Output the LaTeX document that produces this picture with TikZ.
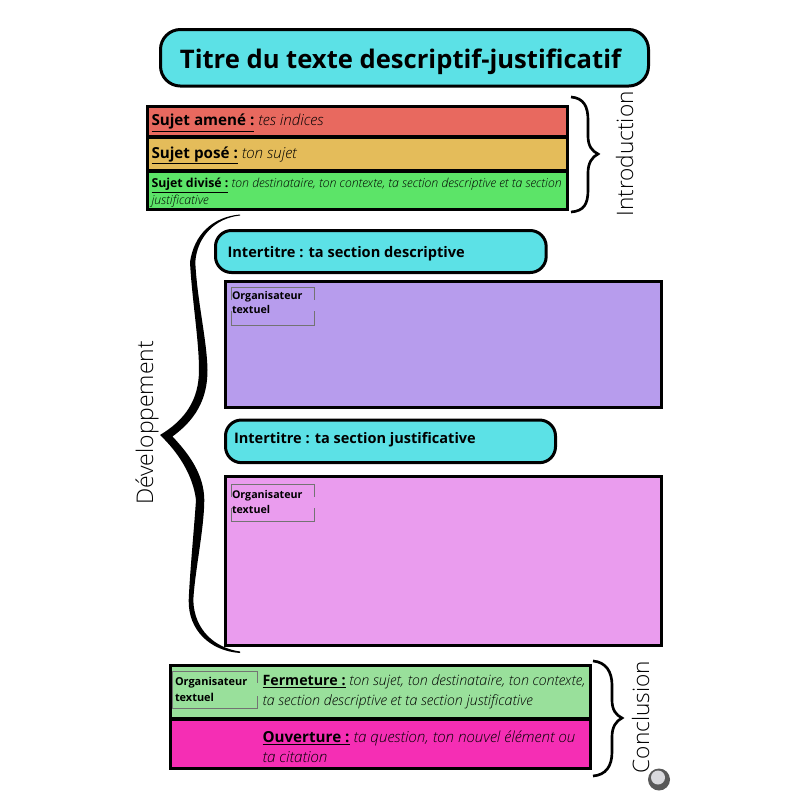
\documentclass[tikz,border=0pt]{standalone}
\usepackage{fontspec}
\setmainfont{Open Sans}
\newfontfamily\lightfont[ItalicFont={Open Sans Light Italic}]{Open Sans Light}
\definecolor{cyanbox}{HTML}{5CE1E6}
\definecolor{redbox}{HTML}{E8695F}
\definecolor{orangebox}{HTML}{E4BC5A}
\definecolor{greenbox}{HTML}{5CE468}
\definecolor{purplebox}{HTML}{B79CED}
\definecolor{pinkbox}{HTML}{EA9CEE}
\definecolor{palegreen}{HTML}{99E09B}
\definecolor{magentabox}{HTML}{F52EB4}
\tikzset{every picture/.style={line width=0.75pt}}
\tikzset{
	box/.style={draw=black,line width=2.25pt,anchor=north west,inner sep=0pt},
	titlebox/.style={box,rounded corners=15pt},
	lead/.style={anchor=west,inner sep=0pt,align=left,font=\fontsize{11.4}{16}\selectfont},
	orgtext/.style={anchor=north west,inner sep=0pt,align=left,font=\fontsize{8}{11}\selectfont\bfseries},
	orgline/.style={draw=black!55,line width=0.75pt},
	part/.style={rotate=90,inner sep=0pt,font=\fontsize{17}{20}\selectfont\lightfont},
}
\newcommand{\lead}[2]{\textbf{\underline{#1}} {\lightfont\itshape #2}}
\begin{document}
\begin{tikzpicture}[x=0.75pt,y=0.75pt,yscale=-1,xscale=1]
	\useasboundingbox (0,0) rectangle (800,800);

	% Title
	\node [titlebox,fill=cyanbox,minimum width=366pt,minimum height=42.4pt] (titre) at (159,28) {};
	\node [font=\fontsize{19.2}{25}\selectfont\bfseries,inner sep=0pt] (titretxt) at (400.5,62) {Titre du texte descriptif-justificatif};

	% Introduction
	\node [box,fill=redbox,minimum width=315pt,minimum height=22.5pt] (amene) at (146,105) {};
	\node [box,fill=orangebox,minimum width=315pt,minimum height=24.4pt] (pose) at (146,136) {};
	\node [box,fill=greenbox,minimum width=315pt,minimum height=28.5pt] (divise) at (146,170) {};
	\node [lead] (ameneTxt) at (151,123) {\lead{Sujet amené :}{tes indices}};
	\node [lead] (poseTxt) at (151,155.5) {\lead{Sujet posé :}{ton sujet}};
	\node [lead,font=\fontsize{9.25}{13.5}\selectfont] (diviseTxt) at (151,193) {\lead{Sujet divisé :}{ton destinataire, ton contexte, ta section descriptive et ta section}\\[-1pt]{\lightfont\itshape justificative}};

	% Development
	\node [titlebox,fill=cyanbox,minimum width=248pt,minimum height=31.5pt,rounded corners=12pt] (inter1) at (214,229) {};
	\node [anchor=west,inner sep=0pt,font=\fontsize{10.95}{13}\selectfont\bfseries] (inter1Txt) at (227,254) {Intertitre : ta section descriptive};
	\node [box,fill=purplebox,minimum width=327pt,minimum height=94.75pt] (descr) at (223.5,279.5) {};
	\draw [orgline] (231,300) -- (231,287) -- (314.5,287) -- (314.5,300) (231,311) -- (231,325) -- (314.5,325) -- (314.5,311);
	\node [orgtext] (org1) at (231.5,290.5) {Organisateur\\textuel};

	\node [titlebox,fill=cyanbox,minimum width=247.5pt,minimum height=32pt,rounded corners=12pt] (inter2) at (224,418.5) {};
	\node [anchor=west,inner sep=0pt,font=\fontsize{10.9}{13}\selectfont\bfseries] (inter2Txt) at (233.5,440) {Intertitre : ta section justificative};
	\node [box,fill=pinkbox,minimum width=327pt,minimum height=126.75pt] (justif) at (223.5,474.5) {};
	\draw [orgline] (231,497) -- (231,484) -- (314.5,484) -- (314.5,497) (231,508) -- (231,521) -- (314.5,521) -- (314.5,508);
	\node [orgtext] (org2) at (231.5,490) {Organisateur\\textuel};

	% Conclusion
	\node [box,fill=palegreen,minimum width=315pt,minimum height=39.4pt] (fermeture) at (169,664) {};
	\node [box,fill=magentabox,minimum width=315pt,minimum height=37.1pt] (ouverture) at (169,717.5) {};
	\draw [orgline] (172.5,671) -- (257,671) -- (257,683) (257,696) -- (257,708.5) -- (172.5,708.5) -- (172.5,671);
	\node [orgtext,font=\fontsize{8.2}{12}\selectfont\bfseries] (org3) at (174.5,677) {Organisateur\\textuel};
	\node [lead,font=\fontsize{10.7}{15.2}\selectfont] (fermetureTxt) at (262,692) {\lead{Fermeture :}{ton sujet, ton destinataire, ton contexte,}\\{\lightfont\itshape ta section descriptive et ta section justificative}};
	\node [lead,font=\fontsize{11.4}{15.2}\selectfont] (ouvertureTxt) at (262,747) {\lead{Ouverture :}{ta question, ton nouvel élément ou}\\{\lightfont\itshape ta citation}};

	% Braces
	\draw [line width=2pt] (571,97) .. controls (584,98) and (588,107) .. (588,120) -- (588,136) .. controls (588,146) and (592,151) .. (598,154) .. controls (592,157) and (588,163) .. (588,173) -- (588,190) .. controls (588,204) and (584,211) .. (571,212);
	\draw [line width=2pt] (593,661) .. controls (606,662) and (612,672) .. (612,685) -- (612,700) .. controls (612,710) and (616,715) .. (622,718) .. controls (616,721) and (612,727) .. (612,737) -- (612,752) .. controls (612,766) and (606,775) .. (593,776);
	\fill (240,214.5) .. controls (212,217) and (194,235) .. (190,262) .. controls (192,300) and (199,340) .. (199,370) .. controls (199,400) and (185,420) .. (160,435) .. controls (178,452) and (193,475) .. (196,500) .. controls (194,530) and (190,570) .. (188.7,600) .. controls (188,630) and (210,651) .. (240,653) -- (240,651.5) .. controls (215,648) and (194,630) .. (193.3,600) .. controls (195,570) and (204,530) .. (204.3,500) .. controls (204,475) and (190,455) .. (172.5,436.5) .. controls (195,420) and (207.5,400) .. (207.5,370) .. controls (207,340) and (197,300) .. (195.3,262) .. controls (197,237) and (215,218) .. (240,215.5) -- cycle;

	% Side labels
	\node [part] (intro) at (624.5,154) {Introduction};
	\node [part,font=\fontsize{17.2}{20}\selectfont\lightfont] (dev) at (147,423) {Développement};
	\node [part] (concl) at (640.5,717) {Conclusion};

	% Small badge
	\fill [black!65] (659,779.5) circle [radius=11];
	\fill [blue!10!black!15] (658,777.5) circle [radius=7];
\end{tikzpicture}
\end{document}
